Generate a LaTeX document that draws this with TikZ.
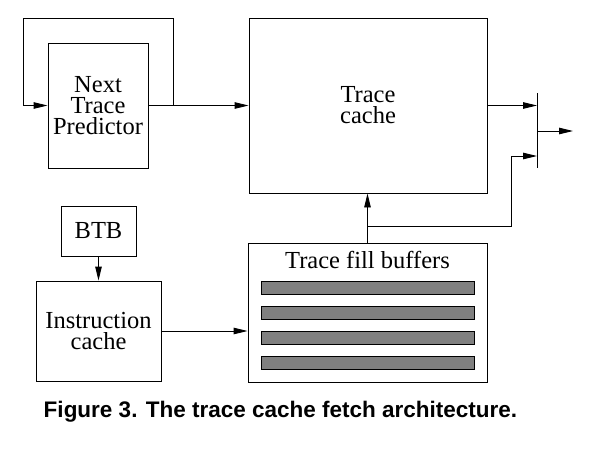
\documentclass[tikz,border=0pt]{standalone}
\usepackage{fontspec}
\setmainfont{Liberation Serif}
\newfontfamily\capfont{Liberation Sans}
\usetikzlibrary{arrows.meta}

\tikzset{
  blk/.style={draw, align=center, inner sep=2pt, font=\fontsize{24.5}{21}\selectfont},
  wire/.style={line width=0.9pt},
}

\begin{document}
\begin{tikzpicture}[x=1pt, y=-1pt, line width=0.9pt, >={Triangle[length=14pt,width=6.5pt]}]
\useasboundingbox (0,0) rectangle (599,448);

\node[blk, minimum width=100pt, minimum height=125pt] (ntp) at (98,105.5) {Next\\Trace\\Predictor};
\node[blk, minimum width=238pt, minimum height=175pt] (tc) at (368,105.5) {Trace\\cache};
\node[blk, minimum width=75pt, minimum height=50pt] (btb) at (98.5,231) {BTB};
\node[blk, minimum width=125pt, minimum height=100pt] (ic) at (98.5,331) {Instruction\\cache};
\node[draw, minimum width=239pt, minimum height=139pt] (tfb) at (367.5,312.5) {};
\node[font=\fontsize{24.5}{21}\selectfont, anchor=base] (tfbl) at (367.5,268) {Trace fill buffers};

% buffer entries
\foreach \y in {281,306,331,356}
  \filldraw[fill=gray, line width=0.8pt] (261,\y) rectangle (474,\y+13);

% next trace predictor loop
\coordinate (split) at (173,105.5);
\draw[->] (ntp.east) -- (tc.west);
\draw[->] (split) |- (23,18) |- (ntp.west);

\draw[->] (btb.south) -- (ic.north);
\draw[->] (ic.east) -- (ic.east -| tfb.west);

% fill buffers to cache and to selector
\coordinate (tap) at (367.5,226);
\draw[->] (tfb.north) -- (tfb.north |- tc.south);
\draw[->] (tap) -| (511,156) -- (537,156);

% selector
\coordinate (muxa) at (537,105.5);
\coordinate (muxo) at (537,131);
\coordinate (out) at (573,131);
\draw (537,93) -- (537,168);
\draw[->] (tc.east) -- (muxa);
\draw[->] (muxo) -- (out);

\node[font=\capfont\bfseries\fontsize{22.5}{27}\selectfont, anchor=base] (cap) at (280.5,417) {Figure 3. The trace cache fetch architecture.};

\end{tikzpicture}
\end{document}
